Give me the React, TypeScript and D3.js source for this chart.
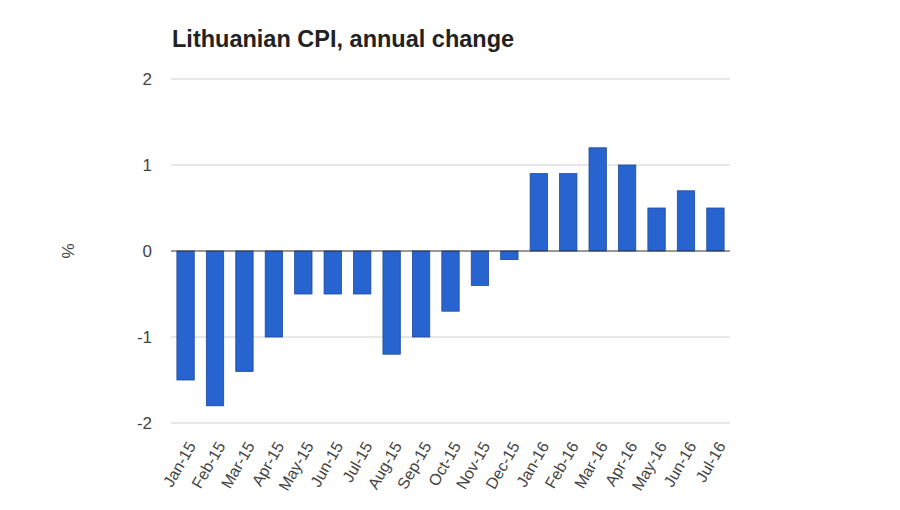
import { useEffect, useRef } from 'react';
import * as d3 from 'd3';

const months = [
  'Jan-15', 'Feb-15', 'Mar-15', 'Apr-15', 'May-15', 'Jun-15', 'Jul-15', 'Aug-15',
  'Sep-15', 'Oct-15', 'Nov-15', 'Dec-15', 'Jan-16', 'Feb-16', 'Mar-16', 'Apr-16',
  'May-16', 'Jun-16', 'Jul-16',
];
const cpiChange = [
  -1.5, -1.8, -1.4, -1.0, -0.5, -0.5, -0.5, -1.2, -1.0, -0.7, -0.4, -0.1,
  0.9, 0.9, 1.2, 1.0, 0.5, 0.7, 0.5,
];
const yTicks = [-2, -1, 0, 1, 2];

const width = 900;
const height = 510;
const margin = { top: 79, right: 170, bottom: 87, left: 171 };
const font = '"Liberation Sans", Arial, sans-serif';

export default function App() {
  const svgRef = useRef<SVGSVGElement>(null);

  useEffect(() => {
    if (!svgRef.current) return;
    const svg = d3.select(svgRef.current);
    svg.selectAll('*').remove();

    const chartWidth = width - margin.left - margin.right;
    const chartHeight = height - margin.top - margin.bottom;

    const g = svg.append('g').attr('transform', `translate(${margin.left},${margin.top})`);

    const xScale = d3
      .scaleBand()
      .domain(months)
      .range([0, chartWidth])
      .paddingInner(0.41)
      .paddingOuter(0.2);

    const yScale = d3.scaleLinear().domain([-2, 2]).range([chartHeight, 0]);

    // grid lines
    g.append('g')
      .selectAll('line')
      .data(yTicks.filter((t) => t !== 0))
      .enter()
      .append('line')
      .attr('x1', 0)
      .attr('x2', chartWidth)
      .attr('y1', (d) => yScale(d))
      .attr('y2', (d) => yScale(d))
      .attr('stroke', '#d0d0d0')
      .attr('stroke-width', 1);

    // y tick labels
    g.append('g')
      .selectAll('text')
      .data(yTicks)
      .enter()
      .append('text')
      .attr('x', -19)
      .attr('y', (d) => yScale(d))
      .attr('dy', '0.35em')
      .attr('text-anchor', 'end')
      .attr('font-family', font)
      .attr('font-size', '17px')
      .attr('fill', '#444')
      .text((d) => String(d));

    // bars
    g.append('g')
      .selectAll('rect')
      .data(cpiChange)
      .enter()
      .append('rect')
      .attr('x', (_, i) => xScale(months[i])!)
      .attr('y', (d) => yScale(Math.max(0, d)))
      .attr('width', xScale.bandwidth())
      .attr('height', (d) => Math.abs(yScale(d) - yScale(0)))
      .attr('fill', '#2864cf')
      .attr('stroke', '#1d4a9c')
      .attr('stroke-width', 0.8);

    // zero line
    g.append('line')
      .attr('x1', 0)
      .attr('x2', chartWidth)
      .attr('y1', yScale(0))
      .attr('y2', yScale(0))
      .attr('stroke', '#333')
      .attr('stroke-width', 1);

    // x labels
    g.append('g')
      .selectAll('text')
      .data(months)
      .enter()
      .append('text')
      .attr('transform', (d) => {
        const x = xScale(d)! + xScale.bandwidth() / 2 + 6;
        const y = chartHeight + 20;
        return `translate(${x},${y}) rotate(-60)`;
      })
      .attr('text-anchor', 'end')
      .attr('dy', '0.35em')
      .attr('font-family', font)
      .attr('font-size', '16px')
      .attr('fill', '#444')
      .text((d) => d);

    // y axis title
    svg
      .append('text')
      .attr('transform', `translate(68,${margin.top + yScale(0)}) rotate(-90)`)
      .attr('text-anchor', 'middle')
      .attr('dy', '0.35em')
      .attr('font-family', font)
      .attr('font-size', '17px')
      .attr('fill', '#444')
      .text('%');

    // title
    svg
      .append('text')
      .attr('x', 172)
      .attr('y', 47)
      .attr('font-family', font)
      .attr('font-size', '23.5px')
      .attr('font-weight', 'bold')
      .attr('fill', '#222')
      .text('Lithuanian CPI, annual change');
  }, []);

  return (
    <svg
      ref={svgRef}
      width={width}
      height={height}
      style={{ position: 'absolute', left: 0, top: 0, background: '#fff' }}
    />
  );
}
